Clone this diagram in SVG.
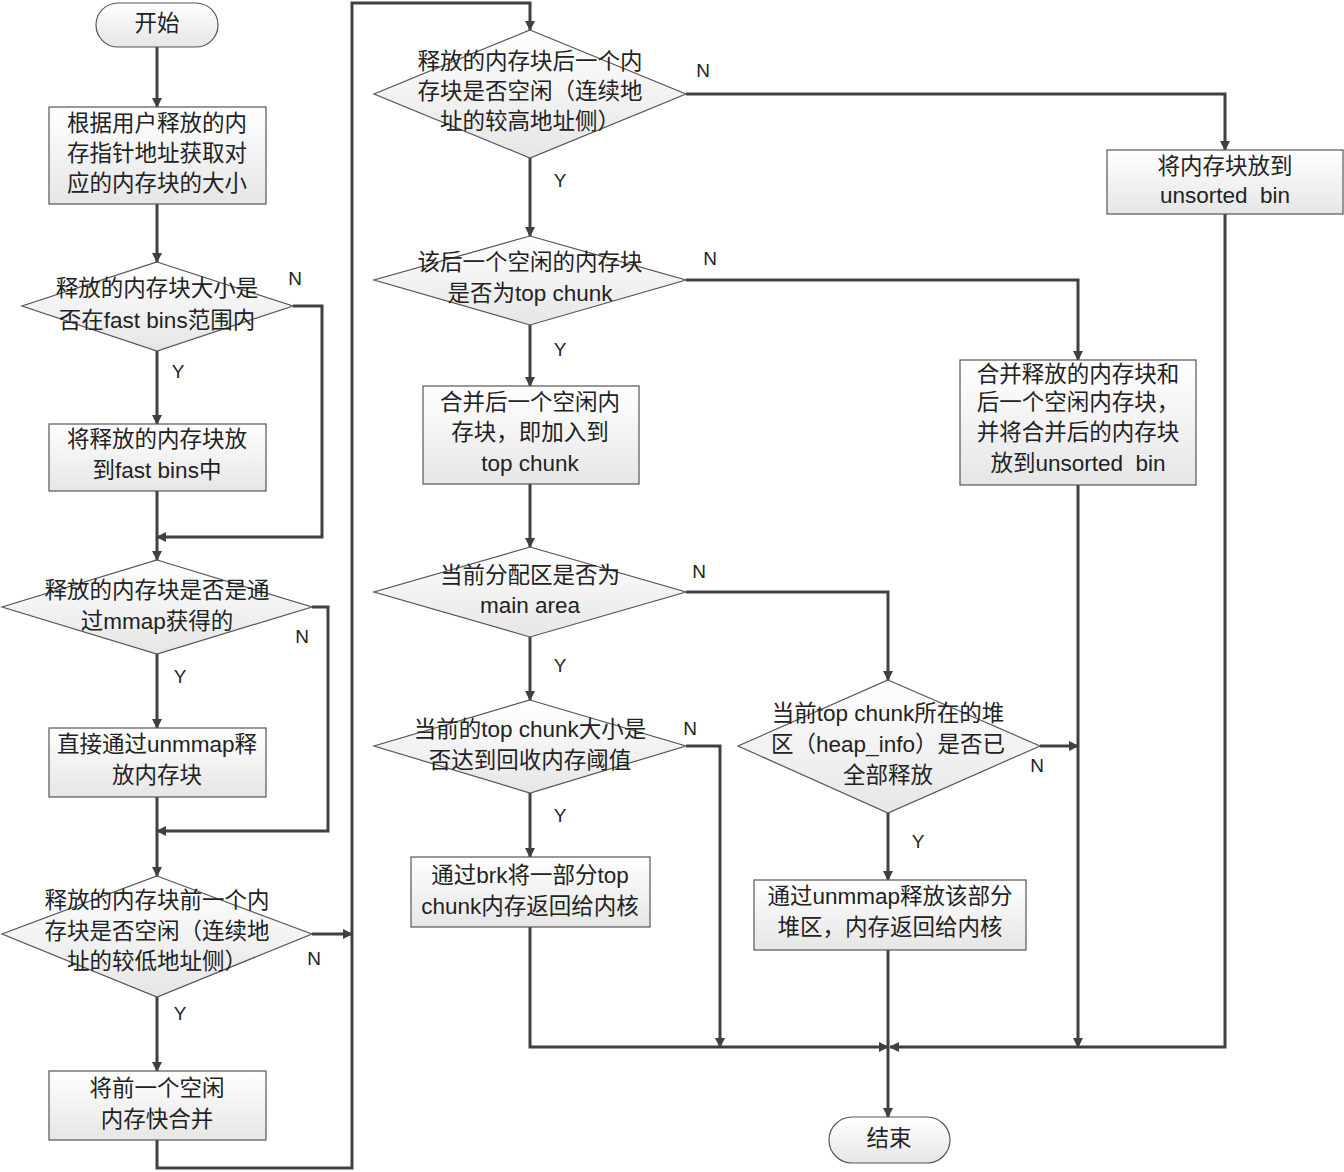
<svg xmlns="http://www.w3.org/2000/svg" width="1344" height="1172" viewBox="0 0 1344 1172">
<defs>
<linearGradient id="g" x1="0" y1="0" x2="0" y2="1"><stop offset="0" stop-color="#ffffff"/><stop offset="1" stop-color="#e6e6e6"/></linearGradient>
<marker id="a" markerWidth="10" markerHeight="10" refX="9" refY="5" orient="auto" markerUnits="userSpaceOnUse"><path d="M0,0 L10,5 L0,10 z" fill="#404040"/></marker>
<style>
.n{fill:url(#g);stroke:#555;stroke-width:1.2}
text{font-family:"Liberation Sans","Noto Sans CJK SC",sans-serif;font-size:22.5px;fill:#222;text-anchor:middle;dominant-baseline:middle}
.l{font-size:19px}
.c{fill:none;stroke:#404040;stroke-width:3}
</style>
</defs>
<rect width="1344" height="1172" fill="#fff"/>
<g id="connectors">
<path class="c" d="M157,47 V107" marker-end="url(#a)"/>
<path class="c" d="M157,204 V262" marker-end="url(#a)"/>
<path class="c" d="M157,351 V424" marker-end="url(#a)"/>
<path class="c" d="M293,306 H322 V537 H157" marker-end="url(#a)"/>
<path class="c" d="M157,491 V560" marker-end="url(#a)"/>
<path class="c" d="M157,654 V728" marker-end="url(#a)"/>
<path class="c" d="M312,607 H328 V831 H157" marker-end="url(#a)"/>
<path class="c" d="M157,797 V876" marker-end="url(#a)"/>
<path class="c" d="M312,934 H352" marker-end="url(#a)"/>
<path class="c" d="M157,997 V1071" marker-end="url(#a)"/>
<path class="c" d="M157,1140 V1168 H352 V3 H530 V30" marker-end="url(#a)"/>
<path class="c" d="M686,94 H1225 V150" marker-end="url(#a)"/>
<path class="c" d="M1225,214 V1047 H890" marker-end="url(#a)"/>
<path class="c" d="M530,158 V236" marker-end="url(#a)"/>
<path class="c" d="M686,280 H1078 V360" marker-end="url(#a)"/>
<path class="c" d="M1078,485 V1047" marker-end="url(#a)"/>
<path class="c" d="M530,325 V386" marker-end="url(#a)"/>
<path class="c" d="M530,484 V547" marker-end="url(#a)"/>
<path class="c" d="M686,592 H888 V680" marker-end="url(#a)"/>
<path class="c" d="M530,637 V700" marker-end="url(#a)"/>
<path class="c" d="M686,746 H720 V1047" marker-end="url(#a)"/>
<path class="c" d="M530,793 V857" marker-end="url(#a)"/>
<path class="c" d="M530,927 V1047 H888" marker-end="url(#a)"/>
<path class="c" d="M1040,746 H1078" marker-end="url(#a)"/>
<path class="c" d="M888,813 V880" marker-end="url(#a)"/>
<path class="c" d="M888,950 V1117" marker-end="url(#a)"/>
</g>
<g id="labels">
<text class="l" x="295" y="280">N</text><text class="l" x="178" y="373">Y</text>
<text class="l" x="302" y="638">N</text><text class="l" x="180" y="678">Y</text>
<text class="l" x="314" y="960">N</text><text class="l" x="180" y="1015">Y</text>
<text class="l" x="703" y="72">N</text><text class="l" x="560" y="182">Y</text>
<text class="l" x="710" y="260">N</text><text class="l" x="560" y="351">Y</text>
<text class="l" x="699" y="573">N</text><text class="l" x="560" y="667">Y</text>
<text class="l" x="690" y="730">N</text><text class="l" x="560" y="817">Y</text>
<text class="l" x="1037" y="767">N</text><text class="l" x="918" y="843">Y</text>
</g>
<g id="start"><rect class="n" x="96" y="3" width="122" height="44" rx="22"/><text x="157" y="25">开始</text></g>
<g id="box1"><rect class="n" x="49" y="107" width="217" height="97"/><text x="157" y="125">根据用户释放的内</text><text x="157" y="155">存指针地址获取对</text><text x="157" y="185">应的内存块的大小</text></g>
<g id="d1"><polygon class="n" points="157,262 293,306 157,351 22,306"/><text x="157" y="290">释放的内存块大小是</text><text x="157" y="322">否在fast bins范围内</text></g>
<g id="box2"><rect class="n" x="49" y="424" width="217" height="67"/><text x="157" y="441">将释放的内存块放</text><text x="157" y="472">到fast bins中</text></g>
<g id="d2"><polygon class="n" points="157,560 312,607 157,654 2,607"/><text x="157" y="592">释放的内存块是否是通</text><text x="157" y="623">过mmap获得的</text></g>
<g id="box3"><rect class="n" x="49" y="728" width="217" height="69"/><text x="157" y="746">直接通过unmmap释</text><text x="157" y="777">放内存块</text></g>
<g id="d3"><polygon class="n" points="157,876 312,934 157,997 2,934"/><text x="157" y="902">释放的内存块前一个内</text><text x="157" y="933">存块是否空闲（连续地</text><text x="157" y="963">址的较低地址侧）</text></g>
<g id="box4"><rect class="n" x="49" y="1071" width="217" height="69"/><text x="157" y="1090">将前一个空闲</text><text x="157" y="1121">内存快合并</text></g>
<g id="d4"><polygon class="n" points="530,30 686,94 530,158 374,94"/><text x="530" y="63">释放的内存块后一个内</text><text x="530" y="93">存块是否空闲（连续地</text><text x="530" y="123">址的较高地址侧）</text></g>
<g id="box5"><rect class="n" x="1107" y="150" width="236" height="64"/><text x="1225" y="168">将内存块放到</text><text x="1225" y="197" xml:space="preserve">unsorted  bin</text></g>
<g id="d5"><polygon class="n" points="530,236 686,280 530,325 374,280"/><text x="530" y="264">该后一个空闲的内存块</text><text x="530" y="295">是否为top chunk</text></g>
<g id="box6"><rect class="n" x="960" y="360" width="236" height="125"/><text x="1078" y="376">合并释放的内存块和</text><text x="1078" y="404">后一个空闲内存块，</text><text x="1078" y="434">并将合并后的内存块</text><text x="1078" y="465" xml:space="preserve">放到unsorted  bin</text></g>
<g id="box7"><rect class="n" x="423" y="386" width="216" height="98"/><text x="530" y="404">合并后一个空闲内</text><text x="530" y="434">存块，即加入到</text><text x="530" y="465">top chunk</text></g>
<g id="d6"><polygon class="n" points="530,547 686,592 530,637 374,592"/><text x="530" y="577">当前分配区是否为</text><text x="530" y="607">main area</text></g>
<g id="d7"><polygon class="n" points="530,700 686,746 530,793 374,746"/><text x="530" y="731">当前的top chunk大小是</text><text x="530" y="762">否达到回收内存阈值</text></g>
<g id="d8"><polygon class="n" points="888,680 1040,746 888,813 738,746"/><text x="888" y="715">当前top chunk所在的堆</text><text x="888" y="746">区（heap_info）是否已</text><text x="888" y="777">全部释放</text></g>
<g id="box8"><rect class="n" x="411" y="857" width="239" height="70"/><text x="530" y="877">通过brk将一部分top</text><text x="530" y="908">chunk内存返回给内核</text></g>
<g id="box9"><rect class="n" x="754" y="880" width="272" height="70"/><text x="890" y="898">通过unmmap释放该部分</text><text x="890" y="929">堆区，内存返回给内核</text></g>
<g id="end"><rect class="n" x="829" y="1117" width="121" height="46" rx="23"/><text x="889" y="1140">结束</text></g>
</svg>
